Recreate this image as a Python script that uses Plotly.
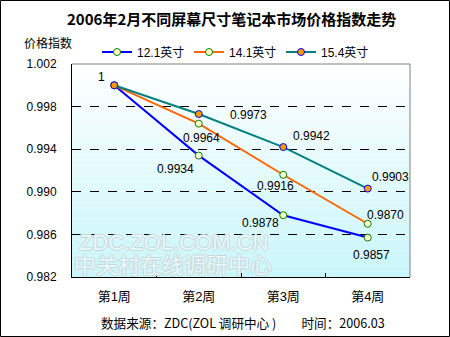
import plotly.graph_objects as go

categories = ["第1周", "第2周", "第3周", "第4周"]
series_names = ["12.1英寸", "14.1英寸", "15.4英寸"]
s121 = [1.0, 0.9934, 0.9878, 0.9857]
s141 = [1.0, 0.9964, 0.9916, 0.9870]
s154 = [1.0, 0.9973, 0.9942, 0.9903]
y_ticks = [0.982, 0.986, 0.990, 0.994, 0.998, 1.002]

title_text = "2006年2月不同屏幕尺寸笔记本市场价格指数走势"
y_title = "价格指数"
footer = "数据来源：ZDC(ZOL 调研中心 )　　时间：2006.03"

CJK = "Noto Sans CJK SC"
NUM = "Liberation Sans, " + CJK

line_colors = ["#0000FF", "#FF6600", "#008080"]
marker_fill = ["#FFFFCC", "#FFFFCC", "#FF9900"]
marker_line = ["#008000", "#008000", "#0000FF"]

# label offsets (px) per series/point, styling only
offsets = [
    [(-13, 8), (-23, -13), (-23, -8), (4, -17)],
    [None, (3, -14), (-8, -11), (18, 9)],
    [None, (50, -1), (28, 11), (23, 12)],
]

fig = go.Figure()
all_series = [s121, s141, s154]
for i, vals in enumerate(all_series):
    fig.add_trace(go.Scatter(
        x=categories, y=vals, name=series_names[i], mode="lines+markers",
        line=dict(color=line_colors[i], width=2),
        marker=dict(symbol="circle", size=7, color=marker_fill[i],
                    line=dict(color=marker_line[i], width=1)),
    ))

annotations = []
for i, vals in enumerate(all_series):
    for j, v in enumerate(vals):
        off = offsets[i][j]
        if off is None:
            continue
        txt = "1" if v == 1.0 else f"{v:.4f}"
        annotations.append(dict(x=categories[j], y=v, xref="x", yref="y", text=txt,
                                showarrow=False, xshift=off[0], yshift=off[1],
                                xanchor="center", yanchor="middle",
                                font=dict(family=NUM, size=12, color="#000000")))

L, R, T, B = 72, 40, 64, 60
W, H = 450, 337
pw, ph = W - L - R, H - T - B


def px(x):
    return (x - L) / pw


def py(y):
    return (H - B - y) / ph


wm_shadow = "-1px 0 #cdd5d5, 1px 0 #cdd5d5, 0 -1px #cdd5d5, 0 1px #cdd5d5"
annotations += [
    dict(text=title_text, xref="paper", yref="paper", x=px(231), y=py(18),
         xanchor="center", yanchor="middle", showarrow=False,
         font=dict(family=CJK, size=15, color="#000000", weight="bold")),
    dict(text=y_title, xref="paper", yref="paper", x=px(48), y=py(43),
         xanchor="center", yanchor="middle", showarrow=False,
         font=dict(family=CJK, size=12, color="#000000")),
    dict(text=footer, xref="paper", yref="paper", x=px(243), y=py(322),
         xanchor="center", yanchor="middle", showarrow=False,
         font=dict(family=CJK, size=12.6, color="#000000")),
    dict(text="ZDC.ZOL.COM.CN", xref="paper", yref="paper", x=px(77), y=py(242),
         xanchor="left", yanchor="middle", showarrow=False,
         font=dict(family="Liberation Sans", size=22, color="rgb(228,249,251)", shadow=wm_shadow)),
    dict(text="中关村在线调研中心", xref="paper", yref="paper", x=px(72), y=py(263),
         xanchor="left", yanchor="middle", showarrow=False,
         font=dict(family=CJK, size=22, color="rgb(228,249,251)", shadow=wm_shadow)),
]

shapes = []
n = 40
top = (255, 255, 255)
bot = (200, 246, 250)
for k in range(n):
    t = (k + 0.5) / n
    c = tuple(int(round(top[m] + (bot[m] - top[m]) * t)) for m in range(3))
    shapes.append(dict(type="rect", xref="x domain", yref="y domain",
                       x0=0, x1=1, y0=1 - (k + 1) / n, y1=1 - k / n,
                       fillcolor=f"rgb{c}", line=dict(width=0), layer="below"))
shapes.append(dict(type="line", xref="x domain", yref="y domain", x0=0, x1=1, y0=1, y1=1,
                   line=dict(color="#808080", width=1)))
shapes.append(dict(type="line", xref="x domain", yref="y domain", x0=1, x1=1, y0=0, y1=1,
                   line=dict(color="#808080", width=1)))
shapes.append(dict(type="rect", xref="paper", yref="paper",
                   x0=px(0.5), x1=px(W - 0.5), y0=py(H - 0.5), y1=py(0.5),
                   line=dict(color="#000000", width=1)))

fig.update_layout(
    width=W, height=H, margin=dict(l=L, r=R, t=T, b=B, autoexpand=False),
    paper_bgcolor="#FFFFFF", plot_bgcolor="#FFFFFF",
    showlegend=True,
    legend=dict(orientation="h", xref="paper", yref="paper",
                x=px(97), y=py(52), xanchor="left", yanchor="middle",
                font=dict(family=NUM, size=12, color="#000000"),
                itemwidth=30, entrywidth=47, bgcolor="rgba(0,0,0,0)"),
    annotations=annotations, shapes=shapes,
    xaxis=dict(type="category", range=[-0.5, len(categories) - 0.5],
               showline=True, linecolor="#000000", linewidth=1,
               ticks="inside", ticklen=4, tickcolor="#000000", tickson="boundaries",
               showgrid=False, tickfont=dict(family=NUM, size=13, color="#000000"),
               ticklabelstandoff=7, automargin=False),
    yaxis=dict(range=[0.982, 1.002], tickvals=y_ticks, tickformat=".3f",
               showline=True, linecolor="#000000", linewidth=1,
               showgrid=True, gridcolor="#000000", griddash="dash", gridwidth=1,
               zeroline=False, ticks="", ticklabelstandoff=12, automargin=False,
               tickfont=dict(family=NUM, size=12, color="#000000")),
)

fig.write_html("out.html")
